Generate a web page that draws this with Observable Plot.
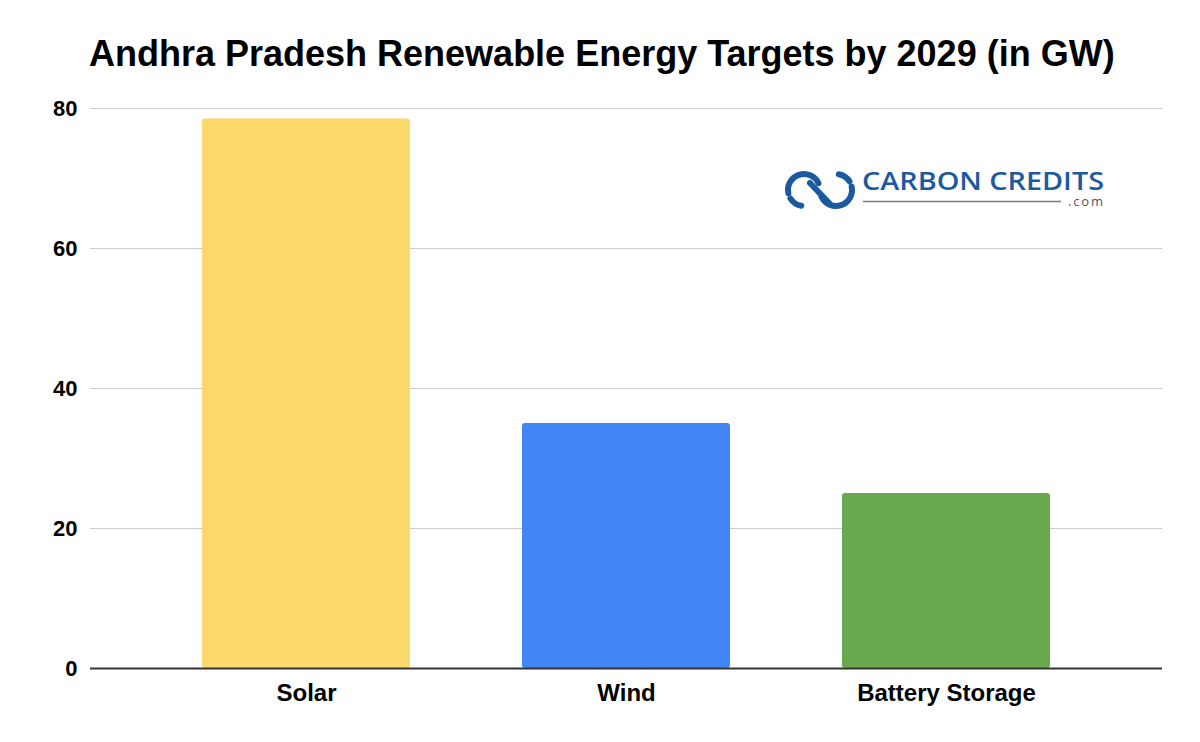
<!DOCTYPE html>
<html>
<head>
<meta charset="utf-8">
<script src="https://cdn.jsdelivr.net/npm/d3@7"></script>
<script src="https://cdn.jsdelivr.net/npm/@observablehq/plot@0.6"></script>
<style>
  html, body { margin: 0; padding: 0; background: #fff; }
  #wrap { position: relative; width: 1200px; height: 742px; overflow: hidden; font-family: "Liberation Sans", Arial, sans-serif; }
  #title { position: absolute; left: 89px; top: 33.5px; font-size: 36px; line-height: 40px; font-weight: bold; color: #000; white-space: nowrap; }
  #chart { position: absolute; left: 0; top: 90px; }
  #logo { position: absolute; left: 0; top: 0; pointer-events: none; }
</style>
</head>
<body>
<div id="wrap">
  <div id="title">Andhra Pradesh Renewable Energy Targets by 2029 (in GW)</div>
  <div id="chart"></div>
  <svg id="logo" width="1200" height="742" viewBox="0 0 1200 742"></svg>
</div>
<script>
// Targets by 2029, in gigawatts
const categories = ["Solar", "Wind", "Battery Storage"];
const targets = [78.5, 35, 25];
const barColors = ["#FDD86A", "#4285F4", "#6AA84F"];
const yTicks = [0, 20, 40, 60, 80];
const gridValues = [20, 40, 60, 80];

const rows = categories.map((c, i) => ({category: c, value: targets[i]}));

const chart = Plot.plot({
  width: 1200,
  height: 652,
  marginTop: 18,
  marginBottom: 74,
  marginLeft: 90,
  marginRight: 38,
  style: {fontFamily: "'Liberation Sans', Arial, sans-serif", background: "#fff", color: "#000"},
  x: {domain: categories, paddingInner: 0.35, paddingOuter: 0.35, label: null},
  y: {domain: [0, 80], ticks: yTicks, label: null},
  color: {domain: categories, range: barColors},
  marks: [
    Plot.ruleY(gridValues, {stroke: "#cccccc", strokeWidth: 1.2}),
    Plot.barY(rows, {x: "category", y: "value", fill: "category", rx: 3, inset: 0}),
    Plot.ruleY([0], {stroke: "#333333", strokeWidth: 2}),
    Plot.axisY({ticks: yTicks, tickSize: 0, tickPadding: 13, fontSize: 22, fontWeight: "bold", label: null}),
    Plot.axisX({tickSize: 0, tickPadding: 15, fontSize: 24, fontWeight: "bold", label: null})
  ]
});
document.getElementById("chart").appendChild(chart);

// Publisher logo: two linked rings plus the wordmark
const logo = d3.select("#logo");
const blue = "#1c5aa0";
const arc = (cx, cy, r, a0, a1) => {
  const rad = d => d * Math.PI / 180;
  const x0 = cx + r * Math.cos(rad(a0)), y0 = cy + r * Math.sin(rad(a0));
  const x1 = cx + r * Math.cos(rad(a1)), y1 = cy + r * Math.sin(rad(a1));
  const large = (a1 - a0) > 180 ? 1 : 0;
  return `M${x0},${y0}A${r},${r} 0 ${large} 1 ${x1},${y1}`;
};
const g = logo.append("g")
  .attr("fill", "none").attr("stroke", blue).attr("stroke-width", 6).attr("stroke-linecap", "round");
g.append("path").attr("d", arc(804, 190, 16, 168, 335));
g.append("path").attr("d", arc(804, 190, 16, 100, 148));
g.append("path").attr("d", arc(836, 190, 16, 348, 515));
g.append("path").attr("d", arc(836, 190, 16, 280, 328));
g.append("line").attr("x1", 810).attr("y1", 183).attr("x2", 830).attr("y2", 204);

logo.append("text")
  .attr("x", 862).attr("y", 190)
  .attr("font-family", "'Open Sans', 'Liberation Sans', sans-serif")
  .attr("font-size", 25).attr("font-weight", 600).attr("fill", blue)
  .attr("textLength", 242).attr("lengthAdjust", "spacingAndGlyphs")
  .text("CARBON CREDITS");
logo.append("line")
  .attr("x1", 863).attr("x2", 1061).attr("y1", 201.5).attr("y2", 201.5)
  .attr("stroke", "#6f7b88").attr("stroke-width", 1.5);
logo.append("text")
  .attr("x", 1068).attr("y", 206)
  .attr("font-family", "'Open Sans', 'Liberation Sans', sans-serif")
  .attr("font-size", 13).attr("fill", "#555")
  .attr("textLength", 35).attr("lengthAdjust", "spacing")
  .text(".com");
</script>
</body>
</html>
